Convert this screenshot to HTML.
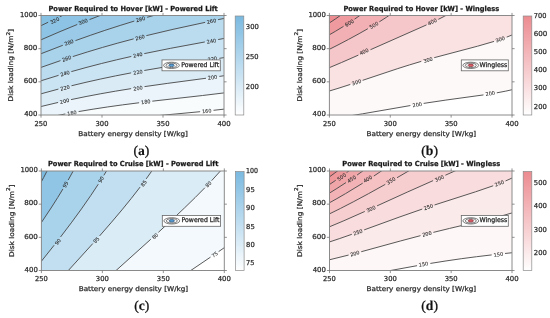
<!DOCTYPE html>
<html><head><meta charset="utf-8"><style>html,body{margin:0;padding:0;background:#fff;width:550px;height:318px;overflow:hidden}svg{display:block}text{stroke:#333;stroke-width:.28px;text-rendering:geometricPrecision}</style></head>
<body><svg width="550" height="318" viewBox="0 0 550 318" font-family="'DejaVu Sans','Liberation Sans',sans-serif">
<clipPath id="clipa"><rect x="41" y="15.5" width="183" height="99.5"/></clipPath>
<g clip-path="url(#clipa)">
<rect x="39" y="13.5" width="187" height="103.5" fill="#ffffff"/>
<path d="M40.18 13.5 226 13.5 226 108.92 197.77 111.92 143.55 117 39 117 39 13.5Z" fill="#f8fcfd"/>
<path d="M40.18 13.5 226 13.5 226 92.67 146.03 101.92 116.62 105.68 82.52 110.9 49.58 117 39 117 39 13.5Z" fill="#eaf4fa"/>
<path d="M40.18 13.5 226 13.5 226 75.46 153.08 85.38 115.45 91.17 95.45 94.72 76.64 98.43 57.82 102.52 39 107 39 13.5Z" fill="#daebf6"/>
<path d="M40.18 13.5 226 13.5 226 57.27 158.96 67.94 137.79 71.64 118.97 75.21 98.98 79.36 78.99 83.93 58.99 88.92 39 94.36 39 13.5Z" fill="#cbe4f3"/>
<path d="M40.18 13.5 226 13.5 226 38.11 164.84 49.44 142.5 54.01 122.5 58.44 101.33 63.56 80.16 69.14 60.17 74.86 39 81.39 39 13.5Z" fill="#bbdbef"/>
<path d="M40.18 13.5 226 13.5 226 18.03 194.25 24.67 169.55 30.12 147.2 35.43 126.03 40.86 103.69 47.09 82.52 53.48 61.35 60.34 39 68.1 39 13.5Z" fill="#a9d2eb"/>
<path d="M40.18 13.5 160.68 13.5 129.56 22.52 100.16 31.97 69.58 42.77 39 54.51 39 13.5Z" fill="#9acae7"/>
<path d="M40.18 13.5 105.33 13.5 73.11 26.16 39 40.68 39 13.5Z" fill="#8dc3e4"/>
<path d="M40.18 13.5 66.81 13.5 39 26.63 39 13.5Z" fill="#85bfe2"/>
<path d="M226 108.92 213.52 110.31" fill="none" stroke="#464646" stroke-width="0.9"/>
<path d="M200.13 111.69 143.55 117" fill="none" stroke="#464646" stroke-width="0.9"/>
<path d="M226 92.67 202.48 95.53 152.3 101.18" fill="none" stroke="#464646" stroke-width="0.9"/>
<path d="M139.11 102.76 122.5 104.88 107.21 107.01 93.1 109.16 78.6 111.57" fill="none" stroke="#464646" stroke-width="0.9"/>
<path d="M65.27 113.98 49.89 117" fill="none" stroke="#464646" stroke-width="0.9"/>
<path d="M226 75.46 219.34 76.41" fill="none" stroke="#464646" stroke-width="0.9"/>
<path d="M206.01 78.24 167.19 83.42 144.5 86.61" fill="none" stroke="#464646" stroke-width="0.9"/>
<path d="M131.12 88.63 115.45 91.17 100.16 93.85 86.04 96.53 71.05 99.6" fill="none" stroke="#464646" stroke-width="0.9"/>
<path d="M58.11 102.45 39 107" fill="none" stroke="#464646" stroke-width="0.9"/>
<path d="M226 57.27 219.34 58.35" fill="none" stroke="#464646" stroke-width="0.9"/>
<path d="M206.01 60.45 169.55 66.2 144.29 70.47" fill="none" stroke="#464646" stroke-width="0.9"/>
<path d="M131.13 72.87 115.45 75.91 100.16 79.11 86.04 82.27 71.47 85.75" fill="none" stroke="#464646" stroke-width="0.9"/>
<path d="M58.41 89.08 39 94.36" fill="none" stroke="#464646" stroke-width="0.9"/>
<path d="M226 38.11 218.16 39.54" fill="none" stroke="#464646" stroke-width="0.9"/>
<path d="M204.83 41.96 170.72 48.29 144.26 53.63" fill="none" stroke="#464646" stroke-width="0.9"/>
<path d="M131.32 56.44 116.62 59.82 101.33 63.56 86.04 67.54 71.34 71.61" fill="none" stroke="#464646" stroke-width="0.9"/>
<path d="M58.58 75.33 39 81.39" fill="none" stroke="#464646" stroke-width="0.9"/>
<path d="M226 18.03 218.06 19.67" fill="none" stroke="#464646" stroke-width="0.9"/>
<path d="M205.12 22.37 173.08 29.32 146.32 35.65" fill="none" stroke="#464646" stroke-width="0.9"/>
<path d="M133.68 38.85 117.8 43.1 102.51 47.43 87.22 52.02 72.81 56.57" fill="none" stroke="#464646" stroke-width="0.9"/>
<path d="M60.46 60.64 39 68.1" fill="none" stroke="#464646" stroke-width="0.9"/>
<path d="M160.68 13.5 147.16 17.3" fill="none" stroke="#464646" stroke-width="0.9"/>
<path d="M134.26 21.09 120.15 25.44 104.86 30.39 90.75 35.19 75.46 40.61" fill="none" stroke="#464646" stroke-width="0.9"/>
<path d="M62.82 45.29 39 54.51" fill="none" stroke="#464646" stroke-width="0.9"/>
<path d="M105.33 13.5 89.57 19.56" fill="none" stroke="#464646" stroke-width="0.9"/>
<path d="M77.22 24.49 58.99 32.04 39 40.68" fill="none" stroke="#464646" stroke-width="0.9"/>
<path d="M66.81 13.5 59.88 16.71" fill="none" stroke="#464646" stroke-width="0.9"/>
<path d="M48.11 22.25 39 26.63" fill="none" stroke="#464646" stroke-width="0.9"/>
</g>
<text x="54.7" y="20.6" transform="rotate(-25.0 54.7 20.6)" font-size="5.0" text-anchor="middle" dy="0.36em" fill="#2a2a2a" style="stroke-width:.08px">320</text>
<text x="83" y="21.8" transform="rotate(-21.8 83 21.8)" font-size="5.0" text-anchor="middle" dy="0.36em" fill="#2a2a2a" style="stroke-width:.08px">300</text>
<text x="69" y="42.5" transform="rotate(-20.4 69 42.5)" font-size="5.0" text-anchor="middle" dy="0.36em" fill="#2a2a2a" style="stroke-width:.08px">280</text>
<text x="140.5" y="19.2" transform="rotate(-16.4 140.5 19.2)" font-size="5.0" text-anchor="middle" dy="0.36em" fill="#2a2a2a" style="stroke-width:.08px">280</text>
<text x="66.8" y="58.6" transform="rotate(-18.2 66.8 58.6)" font-size="5.0" text-anchor="middle" dy="0.36em" fill="#2a2a2a" style="stroke-width:.08px">260</text>
<text x="140" y="37.5" transform="rotate(-14.2 140 37.5)" font-size="5.0" text-anchor="middle" dy="0.36em" fill="#2a2a2a" style="stroke-width:.08px">260</text>
<text x="211.5" y="21.2" transform="rotate(-11.8 211.5 21.2)" font-size="5.0" text-anchor="middle" dy="0.36em" fill="#2a2a2a" style="stroke-width:.08px">260</text>
<text x="65.1" y="73.4" transform="rotate(-16.3 65.1 73.4)" font-size="5.0" text-anchor="middle" dy="0.36em" fill="#2a2a2a" style="stroke-width:.08px">240</text>
<text x="137.9" y="55" transform="rotate(-12.2 137.9 55)" font-size="5.0" text-anchor="middle" dy="0.36em" fill="#2a2a2a" style="stroke-width:.08px">240</text>
<text x="211.5" y="41.2" transform="rotate(-10.2 211.5 41.2)" font-size="5.0" text-anchor="middle" dy="0.36em" fill="#2a2a2a" style="stroke-width:.08px">240</text>
<text x="65" y="87.8" transform="rotate(-14.2 65 87.8)" font-size="5.0" text-anchor="middle" dy="0.36em" fill="#2a2a2a" style="stroke-width:.08px">220</text>
<text x="138" y="72.2" transform="rotate(-10.2 138 72.2)" font-size="5.0" text-anchor="middle" dy="0.36em" fill="#2a2a2a" style="stroke-width:.08px">220</text>
<text x="212.5" y="58.9" transform="rotate(-9.0 212.5 58.9)" font-size="5.0" text-anchor="middle" dy="0.36em" fill="#2a2a2a" style="stroke-width:.08px">220</text>
<text x="64.6" y="101.2" transform="rotate(-12.4 64.6 101.2)" font-size="5.0" text-anchor="middle" dy="0.36em" fill="#2a2a2a" style="stroke-width:.08px">200</text>
<text x="138" y="88.2" transform="rotate(-8.5 138 88.2)" font-size="5.0" text-anchor="middle" dy="0.36em" fill="#2a2a2a" style="stroke-width:.08px">200</text>
<text x="212.5" y="77.4" transform="rotate(-7.8 212.5 77.4)" font-size="5.0" text-anchor="middle" dy="0.36em" fill="#2a2a2a" style="stroke-width:.08px">200</text>
<text x="72" y="112.9" transform="rotate(-10.2 72 112.9)" font-size="5.0" text-anchor="middle" dy="0.36em" fill="#2a2a2a" style="stroke-width:.08px">180</text>
<text x="145.8" y="101.9" transform="rotate(-6.8 145.8 101.9)" font-size="5.0" text-anchor="middle" dy="0.36em" fill="#2a2a2a" style="stroke-width:.08px">180</text>
<text x="206.7" y="111.1" transform="rotate(-5.8 206.7 111.1)" font-size="5.0" text-anchor="middle" dy="0.36em" fill="#2a2a2a" style="stroke-width:.08px">160</text>
<rect x="41" y="15.5" width="183" height="99.5" fill="none" stroke="#8a8a8a" stroke-width="1"/>
<path d="M41 115v2.6M41 15.5v-2.6M102 115v2.6M102 15.5v-2.6M163 115v2.6M163 15.5v-2.6M224 115v2.6M224 15.5v-2.6M41 115h-2.6M224 115h2.6M41 81.83h-2.6M224 81.83h2.6M41 48.67h-2.6M224 48.67h2.6M41 15.5h-2.6M224 15.5h2.6" stroke="#777" stroke-width="0.8" fill="none"/>
<text x="41" y="125.6" font-size="6.8" text-anchor="middle" textLength="12.8" lengthAdjust="spacingAndGlyphs" fill="#333">250</text>
<text x="102" y="125.6" font-size="6.8" text-anchor="middle" textLength="13" lengthAdjust="spacingAndGlyphs" fill="#333">300</text>
<text x="163" y="125.6" font-size="6.8" text-anchor="middle" textLength="13" lengthAdjust="spacingAndGlyphs" fill="#333">350</text>
<text x="224" y="125.6" font-size="6.8" text-anchor="middle" textLength="13.2" lengthAdjust="spacingAndGlyphs" fill="#333">400</text>
<text x="37.4" y="116.2" font-size="6.8" text-anchor="end" textLength="13.2" lengthAdjust="spacingAndGlyphs" fill="#333">400</text>
<text x="37.4" y="83.03" font-size="6.8" text-anchor="end" textLength="13.6" lengthAdjust="spacingAndGlyphs" fill="#333">600</text>
<text x="37.4" y="49.87" font-size="6.8" text-anchor="end" textLength="13.6" lengthAdjust="spacingAndGlyphs" fill="#333">800</text>
<text x="37.4" y="16.7" font-size="6.8" text-anchor="end" textLength="17.4" lengthAdjust="spacingAndGlyphs" fill="#333">1000</text>
<text x="133.15" y="10.55" font-size="7.0" text-anchor="middle" font-weight="bold" textLength="169.3" lengthAdjust="spacingAndGlyphs" fill="#111">Power Required to Hover [kW] - Powered Lift</text>
<text x="133.1" y="135.9" font-size="6.6" text-anchor="middle" textLength="109.5" lengthAdjust="spacingAndGlyphs" fill="#333">Battery energy density [W/kg]</text>
<text transform="translate(13.4 65.25) rotate(-90)" x="0" y="0" font-size="6.6" text-anchor="middle" textLength="72.5" lengthAdjust="spacingAndGlyphs" fill="#333">Disk loading [N/m<tspan font-size="5.2" dy="-3.5">2</tspan><tspan dy="3.5">]</tspan></text>
<linearGradient id="ga" x1="0" y1="1" x2="0" y2="0"><stop offset="0" stop-color="#ffffff"/><stop offset="1" stop-color="rgb(122, 185, 224)"/></linearGradient>
<rect x="235.2" y="16" width="8.6" height="99" fill="url(#ga)" stroke="#8a8a8a" stroke-width="0.7"/>
<text x="245.8" y="28.9" font-size="6.8" textLength="13" lengthAdjust="spacingAndGlyphs" fill="#333">300</text>
<text x="245.8" y="58.7" font-size="6.8" textLength="12.8" lengthAdjust="spacingAndGlyphs" fill="#333">250</text>
<text x="245.8" y="88.5" font-size="6.8" textLength="13" lengthAdjust="spacingAndGlyphs" fill="#333">200</text>
<rect x="162" y="59.9" width="58.3" height="10.9" fill="#fff" stroke="#666" stroke-width="0.8"/>
<ellipse cx="171.5" cy="65.35" rx="7.9" ry="3.15" fill="#fff" stroke="#5a5a5a" stroke-width="0.8"/>
<ellipse cx="171.5" cy="65.35" rx="5.5" ry="2.25" fill="#f6f6f6" stroke="#505050" stroke-width="0.75"/>
<ellipse cx="171.5" cy="65.35" rx="2.6" ry="1.25" fill="#5aa3db" stroke="#23486b" stroke-width="0.7"/>
<text x="181.3" y="66.8" font-size="6.5" textLength="37.8" lengthAdjust="spacingAndGlyphs" fill="#111">Powered Lift</text>
<text x="141.4" y="154.6" font-size="13.6" text-anchor="middle" font-family="'Liberation Serif',serif" fill="#111" style="stroke:#111;stroke-width:.3px">(<tspan font-weight="bold" style="stroke-width:.1px">a</tspan>)</text>
<clipPath id="clipb"><rect x="329.4" y="15.5" width="182.6" height="99.5"/></clipPath>
<g clip-path="url(#clipb)">
<rect x="327.4" y="13.5" width="186.6" height="103.5" fill="#ffffff"/>
<path d="M328.57 13.5 514 13.5 514 89.26 503.44 91.61 492.88 93.49 424.81 103.21 342.66 117 327.4 117 327.4 13.5Z" fill="#fef9f9"/>
<path d="M328.57 13.5 514 13.5 514 34.21 502.26 38.72 488.18 43.2 435.37 57.36 409.55 64.88 389.6 71.26 347.35 85.41 327.4 91.59 327.4 13.5Z" fill="#fae1e2"/>
<path d="M328.57 13.5 449.35 13.5 438.67 19.2 424.45 25.84 348.52 59.47 327.4 68.48 327.4 13.5Z" fill="#f6c7ca"/>
<path d="M328.57 13.5 391.89 13.5 380.52 21.1 364.55 30.59 346.18 40.67 327.4 50.3 327.4 13.5Z" fill="#f2b0b4"/>
<path d="M328.57 13.5 362.6 13.5 354.58 19.2 346.18 24.71 327.4 35.94 327.4 13.5Z" fill="#ee9a9e"/>
<path d="M328.57 13.5 343.14 13.5 335.62 18.84 327.4 24.25 327.4 13.5Z" fill="#ec8b90"/>
<path d="M328.57 13.5 327.4 14.39 327.4 13.5Z" fill="#ec8b90"/>
<path d="M514 89.26 505.78 91.14 496.79 92.84" fill="none" stroke="#464646" stroke-width="0.9"/>
<path d="M483.49 94.92 445.93 100.07 423.63 103.4" fill="none" stroke="#464646" stroke-width="0.9"/>
<path d="M410.37 105.55 362.61 113.8 342.98 117" fill="none" stroke="#464646" stroke-width="0.9"/>
<path d="M514 34.21 506.66 37.13" fill="none" stroke="#464646" stroke-width="0.9"/>
<path d="M494.05 41.42 477.62 46.18 434.2 57.68" fill="none" stroke="#464646" stroke-width="0.9"/>
<path d="M421.29 61.35 409.55 64.88 397.82 68.58 362.61 80.34" fill="none" stroke="#464646" stroke-width="0.9"/>
<path d="M350.28 84.45 337.96 88.4 327.4 91.59" fill="none" stroke="#464646" stroke-width="0.9"/>
<path d="M449.35 13.5 444.24 16.35 438.35 19.35" fill="none" stroke="#464646" stroke-width="0.9"/>
<path d="M426.55 24.89 370.48 49.71" fill="none" stroke="#464646" stroke-width="0.9"/>
<path d="M358.36 55.12 341.48 62.54 327.4 68.48" fill="none" stroke="#464646" stroke-width="0.9"/>
<path d="M391.89 13.5 386.4 17.3 379.33 21.84" fill="none" stroke="#464646" stroke-width="0.9"/>
<path d="M367.86 28.69 359.09 33.66 348.52 39.42 337.96 44.96 327.4 50.3" fill="none" stroke="#464646" stroke-width="0.9"/>
<path d="M362.6 13.5 354.58 19.2" fill="none" stroke="#464646" stroke-width="0.9"/>
<path d="M343.51 26.39 335.62 31.18 327.4 35.94" fill="none" stroke="#464646" stroke-width="0.9"/>
<path d="M343.14 13.5 335.62 18.84 327.4 24.25" fill="none" stroke="#464646" stroke-width="0.9"/>
<path d="M328.64 13.5 327.4 14.39" fill="none" stroke="#464646" stroke-width="0.9"/>
</g>
<text x="349.4" y="23" transform="rotate(-32.9 349.4 23)" font-size="5.0" text-anchor="middle" dy="0.36em" fill="#2a2a2a" style="stroke-width:.08px">600</text>
<text x="373.9" y="25.3" transform="rotate(-30.8 373.9 25.3)" font-size="5.0" text-anchor="middle" dy="0.36em" fill="#2a2a2a" style="stroke-width:.08px">500</text>
<text x="364" y="51.7" transform="rotate(-24.2 364 51.7)" font-size="5.0" text-anchor="middle" dy="0.36em" fill="#2a2a2a" style="stroke-width:.08px">400</text>
<text x="432.3" y="21.8" transform="rotate(-25.3 432.3 21.8)" font-size="5.0" text-anchor="middle" dy="0.36em" fill="#2a2a2a" style="stroke-width:.08px">400</text>
<text x="356.6" y="82.4" transform="rotate(-18.4 356.6 82.4)" font-size="5.0" text-anchor="middle" dy="0.36em" fill="#2a2a2a" style="stroke-width:.08px">300</text>
<text x="428" y="59.9" transform="rotate(-15.8 428 59.9)" font-size="5.0" text-anchor="middle" dy="0.36em" fill="#2a2a2a" style="stroke-width:.08px">300</text>
<text x="500.1" y="39.2" transform="rotate(-18.7 500.1 39.2)" font-size="5.0" text-anchor="middle" dy="0.36em" fill="#2a2a2a" style="stroke-width:.08px">300</text>
<text x="417.2" y="104.8" transform="rotate(-9.1 417.2 104.8)" font-size="5.0" text-anchor="middle" dy="0.36em" fill="#2a2a2a" style="stroke-width:.08px">200</text>
<text x="490.2" y="93.6" transform="rotate(-9.0 490.2 93.6)" font-size="5.0" text-anchor="middle" dy="0.36em" fill="#2a2a2a" style="stroke-width:.08px">200</text>
<rect x="329.4" y="15.5" width="182.6" height="99.5" fill="none" stroke="#8a8a8a" stroke-width="1"/>
<path d="M329.4 115v2.6M329.4 15.5v-2.6M390.27 115v2.6M390.27 15.5v-2.6M451.13 115v2.6M451.13 15.5v-2.6M512 115v2.6M512 15.5v-2.6M329.4 115h-2.6M512 115h2.6M329.4 81.83h-2.6M512 81.83h2.6M329.4 48.67h-2.6M512 48.67h2.6M329.4 15.5h-2.6M512 15.5h2.6" stroke="#777" stroke-width="0.8" fill="none"/>
<text x="329.4" y="125.6" font-size="6.8" text-anchor="middle" textLength="12.8" lengthAdjust="spacingAndGlyphs" fill="#333">250</text>
<text x="390.27" y="125.6" font-size="6.8" text-anchor="middle" textLength="13" lengthAdjust="spacingAndGlyphs" fill="#333">300</text>
<text x="451.13" y="125.6" font-size="6.8" text-anchor="middle" textLength="13" lengthAdjust="spacingAndGlyphs" fill="#333">350</text>
<text x="512" y="125.6" font-size="6.8" text-anchor="middle" textLength="13.2" lengthAdjust="spacingAndGlyphs" fill="#333">400</text>
<text x="325.8" y="116.2" font-size="6.8" text-anchor="end" textLength="13.2" lengthAdjust="spacingAndGlyphs" fill="#333">400</text>
<text x="325.8" y="83.03" font-size="6.8" text-anchor="end" textLength="13.6" lengthAdjust="spacingAndGlyphs" fill="#333">600</text>
<text x="325.8" y="49.87" font-size="6.8" text-anchor="end" textLength="13.6" lengthAdjust="spacingAndGlyphs" fill="#333">800</text>
<text x="325.8" y="16.7" font-size="6.8" text-anchor="end" textLength="17.4" lengthAdjust="spacingAndGlyphs" fill="#333">1000</text>
<text x="421.35" y="10.55" font-size="7.0" text-anchor="middle" font-weight="bold" textLength="155.9" lengthAdjust="spacingAndGlyphs" fill="#111">Power Required to Hover [kW] - Wingless</text>
<text x="421.3" y="135.9" font-size="6.6" text-anchor="middle" textLength="109.5" lengthAdjust="spacingAndGlyphs" fill="#333">Battery energy density [W/kg]</text>
<text transform="translate(301.8 65.25) rotate(-90)" x="0" y="0" font-size="6.6" text-anchor="middle" textLength="72.5" lengthAdjust="spacingAndGlyphs" fill="#333">Disk loading [N/m<tspan font-size="5.2" dy="-3.5">2</tspan><tspan dy="3.5">]</tspan></text>
<linearGradient id="gb" x1="0" y1="1" x2="0" y2="0"><stop offset="0" stop-color="#ffffff"/><stop offset="1" stop-color="rgb(236, 139, 144)"/></linearGradient>
<rect x="523.2" y="16" width="8.6" height="99" fill="url(#gb)" stroke="#8a8a8a" stroke-width="0.7"/>
<text x="533.8" y="17.7" font-size="6.8" textLength="12.6" lengthAdjust="spacingAndGlyphs" fill="#333">700</text>
<text x="533.8" y="35.8" font-size="6.8" textLength="13.6" lengthAdjust="spacingAndGlyphs" fill="#333">600</text>
<text x="533.8" y="54" font-size="6.8" textLength="13" lengthAdjust="spacingAndGlyphs" fill="#333">500</text>
<text x="533.8" y="72.1" font-size="6.8" textLength="13.2" lengthAdjust="spacingAndGlyphs" fill="#333">400</text>
<text x="533.8" y="90.4" font-size="6.8" textLength="13" lengthAdjust="spacingAndGlyphs" fill="#333">300</text>
<text x="533.8" y="108.7" font-size="6.8" textLength="13" lengthAdjust="spacingAndGlyphs" fill="#333">200</text>
<rect x="461.3" y="59.9" width="47" height="10.9" fill="#fff" stroke="#666" stroke-width="0.8"/>
<ellipse cx="470.8" cy="65.35" rx="7.9" ry="3.15" fill="#fff" stroke="#5a5a5a" stroke-width="0.8"/>
<ellipse cx="470.8" cy="65.35" rx="5.5" ry="2.25" fill="#f6f6f6" stroke="#505050" stroke-width="0.75"/>
<ellipse cx="470.8" cy="65.35" rx="2.6" ry="1.25" fill="#e0606b" stroke="#7e2b33" stroke-width="0.7"/>
<text x="479.6" y="66.8" font-size="6.5" textLength="27.6" lengthAdjust="spacingAndGlyphs" fill="#111">Wingless</text>
<text x="429.6" y="154.6" font-size="13.6" text-anchor="middle" font-family="'Liberation Serif',serif" fill="#111" style="stroke:#111;stroke-width:.3px">(<tspan font-weight="bold" style="stroke-width:.1px">b</tspan>)</text>
<clipPath id="clipc"><rect x="41.4" y="171" width="182.9" height="99.5"/></clipPath>
<g clip-path="url(#clipc)">
<rect x="39.4" y="169" width="186.9" height="103.5" fill="#ffffff"/>
<path d="M40.58 169 226.3 169 226.3 246.31 187.81 272.5 39.4 272.5 39.4 169Z" fill="#f3f9fc"/>
<path d="M40.58 169 222.21 169 213.65 178.5 204.63 187.99 182.53 209.83 155.99 234.52 113.85 272.5 39.4 272.5 39.4 169Z" fill="#daecf6"/>
<path d="M40.58 169 153.2 169 145.79 179.44 137.95 189.89 128.97 201.28 118.82 213.63 96.64 239.27 66.5 272.5 39.4 272.5 39.4 169Z" fill="#c1dff1"/>
<path d="M40.58 169 107.67 169 101.3 179.44 94.55 189.89 78.74 212.68 60.99 236.42 39.4 263.73 39.4 169Z" fill="#a9d2eb"/>
<path d="M40.58 169 74.32 169 66.87 182.29 58.91 195.59 49.25 210.78 39.4 225.51 39.4 169Z" fill="#90c5e5"/>
<path d="M40.58 169 48.08 169 39.4 185.35 39.4 169Z" fill="#7ab9e0"/>
<path d="M226.3 246.31 218.6 251.61" fill="none" stroke="#464646" stroke-width="0.9"/>
<path d="M210.51 257.13 187.81 272.5" fill="none" stroke="#464646" stroke-width="0.9"/>
<path d="M222.21 169 211.66 180.62" fill="none" stroke="#464646" stroke-width="0.9"/>
<path d="M204.89 187.73 195.23 197.49 184.51 207.93 172.47 219.33 158.37 232.35" fill="none" stroke="#464646" stroke-width="0.9"/>
<path d="M150.77 239.27 113.85 272.5" fill="none" stroke="#464646" stroke-width="0.9"/>
<path d="M153.2 169 146.18 178.92" fill="none" stroke="#464646" stroke-width="0.9"/>
<path d="M140.13 187.04 131.26 198.44 121.99 209.83 111.57 222.17 99.57 235.96" fill="none" stroke="#464646" stroke-width="0.9"/>
<path d="M92.84 243.54 66.5 272.5" fill="none" stroke="#464646" stroke-width="0.9"/>
<path d="M107.67 169 103.85 175.33" fill="none" stroke="#464646" stroke-width="0.9"/>
<path d="M98.27 184.19 90.73 195.59 81.47 208.88 71.78 222.17 60.56 236.98" fill="none" stroke="#464646" stroke-width="0.9"/>
<path d="M54.16 245.2 39.4 263.73" fill="none" stroke="#464646" stroke-width="0.9"/>
<path d="M74.32 169 68.15 180.08" fill="none" stroke="#464646" stroke-width="0.9"/>
<path d="M62.95 188.94 57.73 197.49 51.72 206.98 39.4 225.51" fill="none" stroke="#464646" stroke-width="0.9"/>
<path d="M48.08 169 43.63 177.55 39.4 185.35" fill="none" stroke="#464646" stroke-width="0.9"/>
</g>
<text x="65.5" y="184.6" transform="rotate(-59.6 65.5 184.6)" font-size="5.0" text-anchor="middle" dy="0.36em" fill="#2a2a2a" style="stroke-width:.08px">95</text>
<text x="57.9" y="241.8" transform="rotate(-52.0 57.9 241.8)" font-size="5.0" text-anchor="middle" dy="0.36em" fill="#2a2a2a" style="stroke-width:.08px">90</text>
<text x="101.1" y="179.6" transform="rotate(-57.8 101.1 179.6)" font-size="5.0" text-anchor="middle" dy="0.36em" fill="#2a2a2a" style="stroke-width:.08px">90</text>
<text x="96.4" y="240" transform="rotate(-48.3 96.4 240)" font-size="5.0" text-anchor="middle" dy="0.36em" fill="#2a2a2a" style="stroke-width:.08px">85</text>
<text x="143.8" y="183.3" transform="rotate(-53.2 143.8 183.3)" font-size="5.0" text-anchor="middle" dy="0.36em" fill="#2a2a2a" style="stroke-width:.08px">85</text>
<text x="155.1" y="236.1" transform="rotate(-42.2 155.1 236.1)" font-size="5.0" text-anchor="middle" dy="0.36em" fill="#2a2a2a" style="stroke-width:.08px">80</text>
<text x="208.5" y="184.2" transform="rotate(-46.3 208.5 184.2)" font-size="5.0" text-anchor="middle" dy="0.36em" fill="#2a2a2a" style="stroke-width:.08px">80</text>
<text x="214.8" y="254.5" transform="rotate(-34.3 214.8 254.5)" font-size="5.0" text-anchor="middle" dy="0.36em" fill="#2a2a2a" style="stroke-width:.08px">75</text>
<rect x="41.4" y="171" width="182.9" height="99.5" fill="none" stroke="#8a8a8a" stroke-width="1"/>
<path d="M41.4 270.5v2.6M41.4 171v-2.6M102.37 270.5v2.6M102.37 171v-2.6M163.33 270.5v2.6M163.33 171v-2.6M224.3 270.5v2.6M224.3 171v-2.6M41.4 270.5h-2.6M224.3 270.5h2.6M41.4 237.33h-2.6M224.3 237.33h2.6M41.4 204.17h-2.6M224.3 204.17h2.6M41.4 171h-2.6M224.3 171h2.6" stroke="#777" stroke-width="0.8" fill="none"/>
<text x="41.4" y="281.1" font-size="6.8" text-anchor="middle" textLength="12.8" lengthAdjust="spacingAndGlyphs" fill="#333">250</text>
<text x="102.37" y="281.1" font-size="6.8" text-anchor="middle" textLength="13" lengthAdjust="spacingAndGlyphs" fill="#333">300</text>
<text x="163.33" y="281.1" font-size="6.8" text-anchor="middle" textLength="13" lengthAdjust="spacingAndGlyphs" fill="#333">350</text>
<text x="224.3" y="281.1" font-size="6.8" text-anchor="middle" textLength="13.2" lengthAdjust="spacingAndGlyphs" fill="#333">400</text>
<text x="37.8" y="271.7" font-size="6.8" text-anchor="end" textLength="13.2" lengthAdjust="spacingAndGlyphs" fill="#333">400</text>
<text x="37.8" y="238.53" font-size="6.8" text-anchor="end" textLength="13.6" lengthAdjust="spacingAndGlyphs" fill="#333">600</text>
<text x="37.8" y="205.37" font-size="6.8" text-anchor="end" textLength="13.6" lengthAdjust="spacingAndGlyphs" fill="#333">800</text>
<text x="37.8" y="172.2" font-size="6.8" text-anchor="end" textLength="17.4" lengthAdjust="spacingAndGlyphs" fill="#333">1000</text>
<text x="133.2" y="166.05" font-size="7.0" text-anchor="middle" font-weight="bold" textLength="170.4" lengthAdjust="spacingAndGlyphs" fill="#111">Power Required to Cruise [kW] - Powered Lift</text>
<text x="133.45" y="291.4" font-size="6.6" text-anchor="middle" textLength="109.5" lengthAdjust="spacingAndGlyphs" fill="#333">Battery energy density [W/kg]</text>
<text transform="translate(13.8 220.75) rotate(-90)" x="0" y="0" font-size="6.6" text-anchor="middle" textLength="72.5" lengthAdjust="spacingAndGlyphs" fill="#333">Disk loading [N/m<tspan font-size="5.2" dy="-3.5">2</tspan><tspan dy="3.5">]</tspan></text>
<linearGradient id="gc" x1="0" y1="1" x2="0" y2="0"><stop offset="0" stop-color="#ffffff"/><stop offset="1" stop-color="rgb(122, 185, 224)"/></linearGradient>
<rect x="235.5" y="171.5" width="8.6" height="99" fill="url(#gc)" stroke="#8a8a8a" stroke-width="0.7"/>
<text x="246.1" y="172.7" font-size="6.8" textLength="12" lengthAdjust="spacingAndGlyphs" fill="#333">100</text>
<text x="246.1" y="191.5" font-size="6.8" textLength="8.6" lengthAdjust="spacingAndGlyphs" fill="#333">95</text>
<text x="246.1" y="210.1" font-size="6.8" textLength="8.6" lengthAdjust="spacingAndGlyphs" fill="#333">90</text>
<text x="246.1" y="228.5" font-size="6.8" textLength="8.6" lengthAdjust="spacingAndGlyphs" fill="#333">85</text>
<text x="246.1" y="247" font-size="6.8" textLength="8.6" lengthAdjust="spacingAndGlyphs" fill="#333">80</text>
<text x="246.1" y="265.4" font-size="6.8" textLength="8.4" lengthAdjust="spacingAndGlyphs" fill="#333">75</text>
<rect x="162.3" y="215.4" width="58.3" height="10.9" fill="#fff" stroke="#666" stroke-width="0.8"/>
<ellipse cx="171.8" cy="220.85" rx="7.9" ry="3.15" fill="#fff" stroke="#5a5a5a" stroke-width="0.8"/>
<ellipse cx="171.8" cy="220.85" rx="5.5" ry="2.25" fill="#f6f6f6" stroke="#505050" stroke-width="0.75"/>
<ellipse cx="171.8" cy="220.85" rx="2.6" ry="1.25" fill="#5aa3db" stroke="#23486b" stroke-width="0.7"/>
<text x="181.6" y="222.3" font-size="6.5" textLength="37.8" lengthAdjust="spacingAndGlyphs" fill="#111">Powered Lift</text>
<text x="141.75" y="310.1" font-size="13.6" text-anchor="middle" font-family="'Liberation Serif',serif" fill="#111" style="stroke:#111;stroke-width:.3px">(<tspan font-weight="bold" style="stroke-width:.1px">c</tspan>)</text>
<clipPath id="clipd"><rect x="329.5" y="171" width="182.5" height="99.5"/></clipPath>
<g clip-path="url(#clipd)">
<rect x="327.5" y="169" width="186.5" height="103.5" fill="#ffffff"/>
<path d="M328.67 169 514 169 514 252.54 479.98 256.29 450.66 260.23 421.34 264.95 379.55 272.5 327.5 272.5 327.5 169Z" fill="#fef7f7"/>
<path d="M328.67 169 514 169 514 212.38 491.71 218.43 445.97 229.29 423.68 234.83 353.31 253.83 327.5 260.26 327.5 169Z" fill="#fbeaea"/>
<path d="M328.67 169 514 169 514 177.17 502.27 182.29 488.19 187.55 418.99 210.19 397.88 217.6 352.13 234.21 327.5 242.6 327.5 169Z" fill="#f9dcdd"/>
<path d="M328.67 169 459.24 169 409.61 191.05 354.48 216.09 327.5 227.62 327.5 169Z" fill="#f7ced0"/>
<path d="M328.67 169 411.97 169 390.66 181.34 366.74 194.64 346.27 205.5 327.5 214.85 327.5 169Z" fill="#f5c1c3"/>
<path d="M328.67 169 384.38 169 371.53 177.55 356.48 187.04 342.17 195.59 327.5 203.86 327.5 169Z" fill="#f3b3b6"/>
<path d="M328.67 169 365.54 169 347.44 181.62 327.5 194.28 327.5 169Z" fill="#f0a6a9"/>
<path d="M328.67 169 351.39 169 339.67 177.55 327.5 185.84 327.5 169Z" fill="#ee989c"/>
<path d="M328.67 169 340.14 169 327.5 178.32 327.5 169Z" fill="#ec8b90"/>
<path d="M328.67 169 330.84 169 327.5 171.56 327.5 169Z" fill="#ec8b90"/>
<path d="M514 252.54 505.06 253.47" fill="none" stroke="#464646" stroke-width="0.9"/>
<path d="M491.71 254.92 476.47 256.72 461.22 258.72 445.97 260.94 430.33 263.43" fill="none" stroke="#464646" stroke-width="0.9"/>
<path d="M417.04 265.69 379.55 272.5" fill="none" stroke="#464646" stroke-width="0.9"/>
<path d="M514 212.38 503.44 215.4 490.54 218.72 449.49 228.45 433.36 232.38" fill="none" stroke="#464646" stroke-width="0.9"/>
<path d="M420.51 235.65 400.22 241.04 361.22 251.72" fill="none" stroke="#464646" stroke-width="0.9"/>
<path d="M348.61 255.06 327.5 260.26" fill="none" stroke="#464646" stroke-width="0.9"/>
<path d="M514 177.17 505.5 180.97" fill="none" stroke="#464646" stroke-width="0.9"/>
<path d="M493.18 185.77 475.62 191.79 434.53 204.97" fill="none" stroke="#464646" stroke-width="0.9"/>
<path d="M422.22 209.09 399.05 217.18 364.16 229.88" fill="none" stroke="#464646" stroke-width="0.9"/>
<path d="M351.84 234.31 339.23 238.7 327.5 242.6" fill="none" stroke="#464646" stroke-width="0.9"/>
<path d="M459.24 169 445.38 175.21" fill="none" stroke="#464646" stroke-width="0.9"/>
<path d="M433.07 180.63 407.26 192.11 377.06 205.87" fill="none" stroke="#464646" stroke-width="0.9"/>
<path d="M364.75 211.48 343.92 220.73 327.5 227.62" fill="none" stroke="#464646" stroke-width="0.9"/>
<path d="M411.97 169 397.01 177.72" fill="none" stroke="#464646" stroke-width="0.9"/>
<path d="M385.29 184.37 368.48 193.69 353.31 201.83 340.4 208.49 327.5 214.85" fill="none" stroke="#464646" stroke-width="0.9"/>
<path d="M384.38 169 373.83 176.05" fill="none" stroke="#464646" stroke-width="0.9"/>
<path d="M362.69 183.19 345.42 193.69 336.88 198.63 327.5 203.86" fill="none" stroke="#464646" stroke-width="0.9"/>
<path d="M365.54 169 357.07 175.05" fill="none" stroke="#464646" stroke-width="0.9"/>
<path d="M345.97 182.59 336.88 188.47 327.5 194.28" fill="none" stroke="#464646" stroke-width="0.9"/>
<path d="M351.39 169 346.57 172.59" fill="none" stroke="#464646" stroke-width="0.9"/>
<path d="M335.71 180.31 327.5 185.84" fill="none" stroke="#464646" stroke-width="0.9"/>
<path d="M340.14 169 327.5 178.32" fill="none" stroke="#464646" stroke-width="0.9"/>
<path d="M330.84 169 327.5 171.56" fill="none" stroke="#464646" stroke-width="0.9"/>
</g>
<text x="341.6" y="177" transform="rotate(-35.2 341.6 177)" font-size="5.0" text-anchor="middle" dy="0.36em" fill="#2a2a2a" style="stroke-width:.08px">500</text>
<text x="351.6" y="179.1" transform="rotate(-34.1 351.6 179.1)" font-size="5.0" text-anchor="middle" dy="0.36em" fill="#2a2a2a" style="stroke-width:.08px">450</text>
<text x="367.7" y="179" transform="rotate(-32.9 367.7 179)" font-size="5.0" text-anchor="middle" dy="0.36em" fill="#2a2a2a" style="stroke-width:.08px">400</text>
<text x="391" y="180.7" transform="rotate(-29.7 391 180.7)" font-size="5.0" text-anchor="middle" dy="0.36em" fill="#2a2a2a" style="stroke-width:.08px">350</text>
<text x="371" y="209" transform="rotate(-24.4 371 209)" font-size="5.0" text-anchor="middle" dy="0.36em" fill="#2a2a2a" style="stroke-width:.08px">300</text>
<text x="439.4" y="178.5" transform="rotate(-23.6 439.4 178.5)" font-size="5.0" text-anchor="middle" dy="0.36em" fill="#2a2a2a" style="stroke-width:.08px">300</text>
<text x="358" y="232.3" transform="rotate(-19.7 358 232.3)" font-size="5.0" text-anchor="middle" dy="0.36em" fill="#2a2a2a" style="stroke-width:.08px">250</text>
<text x="428.4" y="207" transform="rotate(-18.5 428.4 207)" font-size="5.0" text-anchor="middle" dy="0.36em" fill="#2a2a2a" style="stroke-width:.08px">250</text>
<text x="499.3" y="183.3" transform="rotate(-21.3 499.3 183.3)" font-size="5.0" text-anchor="middle" dy="0.36em" fill="#2a2a2a" style="stroke-width:.08px">250</text>
<text x="354.8" y="253.5" transform="rotate(-14.8 354.8 253.5)" font-size="5.0" text-anchor="middle" dy="0.36em" fill="#2a2a2a" style="stroke-width:.08px">200</text>
<text x="426.9" y="233.8" transform="rotate(-14.3 426.9 233.8)" font-size="5.0" text-anchor="middle" dy="0.36em" fill="#2a2a2a" style="stroke-width:.08px">200</text>
<text x="423.5" y="264.2" transform="rotate(-9.7 423.5 264.2)" font-size="5.0" text-anchor="middle" dy="0.36em" fill="#2a2a2a" style="stroke-width:.08px">150</text>
<text x="498.4" y="254.5" transform="rotate(-6.1 498.4 254.5)" font-size="5.0" text-anchor="middle" dy="0.36em" fill="#2a2a2a" style="stroke-width:.08px">150</text>
<rect x="329.5" y="171" width="182.5" height="99.5" fill="none" stroke="#8a8a8a" stroke-width="1"/>
<path d="M329.5 270.5v2.6M329.5 171v-2.6M390.33 270.5v2.6M390.33 171v-2.6M451.17 270.5v2.6M451.17 171v-2.6M512 270.5v2.6M512 171v-2.6M329.5 270.5h-2.6M512 270.5h2.6M329.5 237.33h-2.6M512 237.33h2.6M329.5 204.17h-2.6M512 204.17h2.6M329.5 171h-2.6M512 171h2.6" stroke="#777" stroke-width="0.8" fill="none"/>
<text x="329.5" y="281.1" font-size="6.8" text-anchor="middle" textLength="12.8" lengthAdjust="spacingAndGlyphs" fill="#333">250</text>
<text x="390.33" y="281.1" font-size="6.8" text-anchor="middle" textLength="13" lengthAdjust="spacingAndGlyphs" fill="#333">300</text>
<text x="451.17" y="281.1" font-size="6.8" text-anchor="middle" textLength="13" lengthAdjust="spacingAndGlyphs" fill="#333">350</text>
<text x="512" y="281.1" font-size="6.8" text-anchor="middle" textLength="13.2" lengthAdjust="spacingAndGlyphs" fill="#333">400</text>
<text x="325.9" y="271.7" font-size="6.8" text-anchor="end" textLength="13.2" lengthAdjust="spacingAndGlyphs" fill="#333">400</text>
<text x="325.9" y="238.53" font-size="6.8" text-anchor="end" textLength="13.6" lengthAdjust="spacingAndGlyphs" fill="#333">600</text>
<text x="325.9" y="205.37" font-size="6.8" text-anchor="end" textLength="13.6" lengthAdjust="spacingAndGlyphs" fill="#333">800</text>
<text x="325.9" y="172.2" font-size="6.8" text-anchor="end" textLength="17.4" lengthAdjust="spacingAndGlyphs" fill="#333">1000</text>
<text x="421.25" y="166.05" font-size="7.0" text-anchor="middle" font-weight="bold" textLength="157.9" lengthAdjust="spacingAndGlyphs" fill="#111">Power Required to Cruise [kW] - Wingless</text>
<text x="421.35" y="291.4" font-size="6.6" text-anchor="middle" textLength="109.5" lengthAdjust="spacingAndGlyphs" fill="#333">Battery energy density [W/kg]</text>
<text transform="translate(301.9 220.75) rotate(-90)" x="0" y="0" font-size="6.6" text-anchor="middle" textLength="72.5" lengthAdjust="spacingAndGlyphs" fill="#333">Disk loading [N/m<tspan font-size="5.2" dy="-3.5">2</tspan><tspan dy="3.5">]</tspan></text>
<linearGradient id="gd" x1="0" y1="1" x2="0" y2="0"><stop offset="0" stop-color="#ffffff"/><stop offset="1" stop-color="rgb(236, 139, 144)"/></linearGradient>
<rect x="523.2" y="171.5" width="8.6" height="99" fill="url(#gd)" stroke="#8a8a8a" stroke-width="0.7"/>
<text x="533.8" y="184.8" font-size="6.8" textLength="13" lengthAdjust="spacingAndGlyphs" fill="#333">500</text>
<text x="533.8" y="208.1" font-size="6.8" textLength="13.2" lengthAdjust="spacingAndGlyphs" fill="#333">400</text>
<text x="533.8" y="231.5" font-size="6.8" textLength="13" lengthAdjust="spacingAndGlyphs" fill="#333">300</text>
<text x="533.8" y="254.7" font-size="6.8" textLength="13" lengthAdjust="spacingAndGlyphs" fill="#333">200</text>
<rect x="461.3" y="215.4" width="47" height="10.9" fill="#fff" stroke="#666" stroke-width="0.8"/>
<ellipse cx="470.8" cy="220.85" rx="7.9" ry="3.15" fill="#fff" stroke="#5a5a5a" stroke-width="0.8"/>
<ellipse cx="470.8" cy="220.85" rx="5.5" ry="2.25" fill="#f6f6f6" stroke="#505050" stroke-width="0.75"/>
<ellipse cx="470.8" cy="220.85" rx="2.6" ry="1.25" fill="#e0606b" stroke="#7e2b33" stroke-width="0.7"/>
<text x="479.6" y="222.3" font-size="6.5" textLength="27.6" lengthAdjust="spacingAndGlyphs" fill="#111">Wingless</text>
<text x="429.65" y="310.1" font-size="13.6" text-anchor="middle" font-family="'Liberation Serif',serif" fill="#111" style="stroke:#111;stroke-width:.3px">(<tspan font-weight="bold" style="stroke-width:.1px">d</tspan>)</text>
</svg></body></html>
